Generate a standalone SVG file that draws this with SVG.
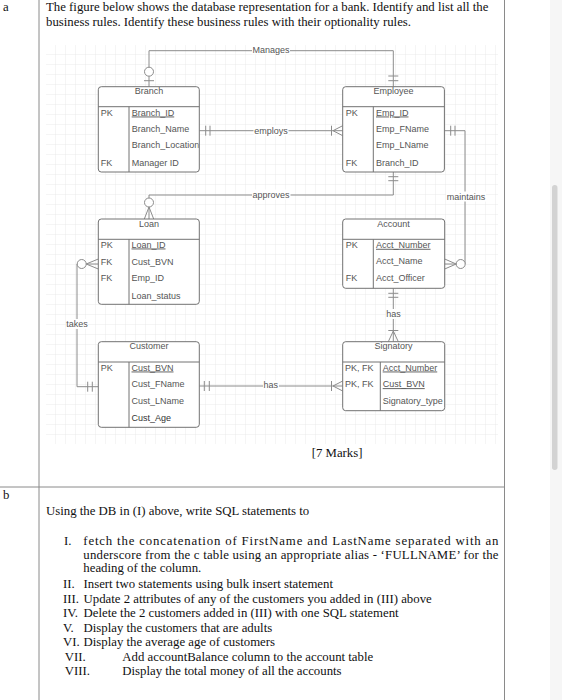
<svg xmlns="http://www.w3.org/2000/svg" width="562" height="700" viewBox="0 0 562 700">
<style>
.doc{font-family:"Liberation Serif","Times New Roman",serif;font-size:12.8px;fill:#111}
.er{font-family:"Liberation Sans",Arial,sans-serif;font-size:9px;fill:#555}
.ttl{text-anchor:middle}
.u{text-decoration:underline}
.box{fill:#fff;stroke:#727272;stroke-width:1}
.sep{stroke:#727272;stroke-width:1;fill:none}
.cn{stroke:#8c8c8c;stroke-width:1;fill:none}
.cw{stroke:#8c8c8c;stroke-width:1;fill:#fff}
.lb{fill:#fff}
.tb{stroke:#8a8a8a;stroke-width:1;fill:none}
</style>
<defs>
<pattern id="g" x="46" y="45" width="10" height="10" patternUnits="userSpaceOnUse">
<path d="M10 0V10M0 10H10" stroke="#e6e6e6" stroke-width="0.8" fill="none"/>
</pattern>
<clipPath id="cb"><rect x="98" y="86" width="100.8" height="87"/></clipPath>
</defs>
<rect width="562" height="700" fill="#fff"/>
<!-- scrollbar -->
<rect x="550" y="0" width="12" height="700" fill="#f6f6f6"/>
<rect x="552" y="185" width="5.5" height="285" rx="2.7" fill="#d3d3d3"/>
<!-- table -->
<g id="table">
<path class="tb" d="M39 0V700M504.5 0V700M0 487H504.5"/>
<text class="doc" x="3" y="11">a</text>
<text class="doc" x="3" y="499">b</text>
</g>
<g id="intro">
<text class="doc" x="46" y="11">The figure below shows the database representation for a bank. Identify and list all the</text>
<text class="doc" x="46" y="26">business rules. Identify these business rules with their optionality rules.</text>
</g>
<!-- grid -->
<rect x="46" y="45" width="452" height="399" fill="url(#g)"/>
<g id="connectors">
<!-- Manages -->
<path class="cn" d="M149 86.7V50.7H393.3V86.7"/>
<path class="cn" d="M144 80.7H154M388.3 76H398.3M388.3 80.7H398.3"/>
<circle class="cw" cx="149" cy="71.7" r="4.5"/>
<rect class="lb" x="252" y="44.5" width="38" height="10"/>
<text class="er ttl" x="271" y="52.5">Manages</text>
<!-- employs -->
<path class="cn" d="M199.3 130.7H342.7"/>
<path class="cn" d="M205.7 125.7V135.7M210 125.7V135.7M342.7 125.7L333 130.7L342.7 135.7M331.5 125.7V135.7"/>
<rect class="lb" x="253.5" y="125.5" width="35" height="10"/>
<text class="er ttl" x="271" y="133.9">employs</text>
<!-- approves -->
<path class="cn" d="M393.3 172V195H149V219"/>
<path class="cn" d="M388.3 176.7H398.3M388.3 180.7H398.3M144.3 219L149 207L153.7 219"/>
<circle class="cw" cx="149" cy="202.5" r="4.5"/>
<rect class="lb" x="252" y="189.5" width="38.5" height="10"/>
<text class="er ttl" x="271" y="197.7">approves</text>
<!-- maintains -->
<path class="cn" d="M444.4 130.7H465V264H444.7"/>
<path class="cn" d="M450.7 125.7V135.7M455 125.7V135.7M444.7 259L456.2 264L444.7 269"/>
<circle class="cw" cx="460.7" cy="264" r="4.5"/>
<rect class="lb" x="446" y="191.5" width="40" height="10"/>
<text class="er ttl" x="466" y="199.5">maintains</text>
<!-- takes -->
<path class="cn" d="M98.3 264H77V386.7H98.3"/>
<path class="cn" d="M98.3 259L86.2 264L98.3 269M87.7 381.7V391.7M92.3 381.7V391.7"/>
<circle class="cw" cx="81.7" cy="264" r="4.5"/>
<rect class="lb" x="66" y="319" width="22" height="10"/>
<text class="er ttl" x="77" y="327.2">takes</text>
<!-- has customer-signatory -->
<path class="cn" d="M199.3 386H342.7"/>
<path class="cn" d="M204.3 381V391M209.3 381V391M342.7 381L333 386L342.7 391M331.5 381V391"/>
<rect class="lb" x="263" y="380.5" width="16" height="10"/>
<text class="er ttl" x="270.8" y="388.2">has</text>
<!-- has account-signatory -->
<path class="cn" d="M393.3 288.3V341.7"/>
<path class="cn" d="M388.3 293.3H398.3M388.3 297.3H398.3M388.3 341.7L393.3 331L398.3 341.7M388.3 330.5H398.3"/>
<rect class="lb" x="386" y="309" width="15" height="10"/>
<text class="er ttl" x="393.5" y="317.2">has</text>
</g>
<g id="branch">
<rect class="box" x="98.3" y="86.7" width="101" height="85.3" rx="3"/>
<path class="sep" d="M98.3 106.7H199.3M129 106.7V172"/>
<text class="er ttl" x="149" y="94.2">Branch</text>
<text class="er" x="100.7" y="115.5">PK</text>
<text class="er u" x="131.7" y="115.5">Branch_ID</text>
<text class="er" x="131.7" y="132">Branch_Name</text>
<text class="er" x="131.7" y="148.3" clip-path="url(#cb)">Branch_Location</text>
<text class="er" x="100.7" y="165.5">FK</text>
<text class="er" x="131.7" y="165.5">Manager ID</text>
</g>
<g id="employee">
<rect class="box" x="342.7" y="86.7" width="101.7" height="85.3" rx="3"/>
<path class="sep" d="M342.7 106.7H444.4M373.3 106.7V172"/>
<text class="er ttl" x="393.5" y="94.2">Employee</text>
<text class="er" x="345.7" y="115.5">PK</text>
<text class="er u" x="376" y="115.5">Emp_ID</text>
<text class="er" x="376" y="132">Emp_FName</text>
<text class="er" x="376" y="148.3">Emp_LName</text>
<text class="er" x="345.7" y="165.5">FK</text>
<text class="er" x="376" y="165.5">Branch_ID</text>
</g>
<g id="loan">
<rect class="box" x="98.3" y="219" width="101" height="85.3" rx="3"/>
<path class="sep" d="M98.3 239.3H199.3M129 239.3V304.3"/>
<text class="er ttl" x="149" y="226.5">Loan</text>
<text class="er" x="100.7" y="247.5">PK</text>
<text class="er u" x="131.5" y="247.5">Loan_ID</text>
<text class="er" x="100.7" y="264.5">FK</text>
<text class="er" x="131.5" y="264.5">Cust_BVN</text>
<text class="er" x="100.7" y="281">FK</text>
<text class="er" x="131.5" y="281">Emp_ID</text>
<text class="er" x="131.5" y="299">Loan_status</text>
</g>
<g id="account">
<rect class="box" x="342.7" y="219" width="102" height="69.3" rx="3"/>
<path class="sep" d="M342.7 239.3H444.7M373.3 239.3V288.3"/>
<text class="er ttl" x="393.5" y="226.5">Account</text>
<text class="er" x="345.7" y="247.8">PK</text>
<text class="er u" x="376" y="247.8">Acct_Number</text>
<text class="er" x="376" y="264.2">Acct_Name</text>
<text class="er" x="345.7" y="280.5">FK</text>
<text class="er" x="376" y="280.5">Acct_Officer</text>
</g>
<g id="customer">
<rect class="box" x="98.3" y="341.7" width="101" height="85.6" rx="3"/>
<path class="sep" d="M98.3 362H199.3M129 362V427.3"/>
<text class="er ttl" x="149" y="349.2">Customer</text>
<text class="er" x="100.7" y="370.5">PK</text>
<text class="er u" x="131.5" y="370.5">Cust_BVN</text>
<text class="er" x="131.5" y="387.2">Cust_FName</text>
<text class="er" x="131.5" y="404">Cust_LName</text>
<text class="er" x="131.5" y="421.2" style="fill:#333">Cust_Age</text>
</g>
<g id="signatory">
<rect class="box" x="342.7" y="341.7" width="102" height="69" rx="3"/>
<path class="sep" d="M342.7 362H444.7M380.3 362V410.7"/>
<text class="er ttl" x="393.5" y="349.2">Signatory</text>
<text class="er" x="345" y="370.5">PK, FK</text>
<text class="er u" x="382.7" y="370.5">Acct_Number</text>
<text class="er" x="345" y="387.2">PK, FK</text>
<text class="er u" x="382.7" y="387.2">Cust_BVN</text>
<text class="er" x="382.7" y="404">Signatory_type</text>
</g>
<text class="doc" x="311.7" y="457">[7 Marks]</text>
<g id="partb">
<text class="doc" x="46" y="515">Using the DB in (I) above, write SQL statements to</text>
<text class="doc" x="64" y="544.5">I.</text>
<text class="doc" x="83.3" y="544.5" textLength="415.2" lengthAdjust="spacing">fetch the concatenation of FirstName and LastName separated with an</text>
<text class="doc" x="83.3" y="558.5" textLength="415.2" lengthAdjust="spacing">underscore from the c table using an appropriate alias - ‘FULLNAME’ for the</text>
<text class="doc" x="83.3" y="572">heading of the column.</text>
<text class="doc" x="63" y="588">II.</text>
<text class="doc" x="83.5" y="588">Insert two statements using bulk insert statement</text>
<text class="doc" x="63" y="602.5">III.</text>
<text class="doc" x="83.5" y="602.5">Update 2 attributes of any of the customers you added in (III) above</text>
<text class="doc" x="63" y="617">IV.</text>
<text class="doc" x="83.5" y="617">Delete the 2 customers added in (III) with one SQL statement</text>
<text class="doc" x="63" y="631.5">V.</text>
<text class="doc" x="83.5" y="631.5">Display the customers that are adults</text>
<text class="doc" x="63" y="646">VI.</text>
<text class="doc" x="83.5" y="646">Display the average age of customers</text>
<text class="doc" x="64.7" y="661">VII.</text>
<text class="doc" x="122.3" y="661">Add accountBalance column to the account table</text>
<text class="doc" x="64.7" y="675">VIII.</text>
<text class="doc" x="122.3" y="675">Display the total money of all the accounts</text>
</g>
</svg>
